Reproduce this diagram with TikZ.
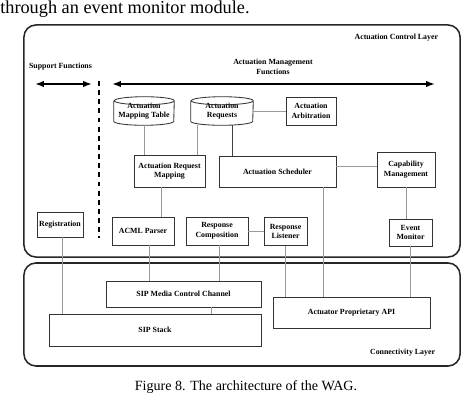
\documentclass[tikz,border=0pt]{standalone}
\usepackage{fontspec}
\setmainfont{Liberation Serif}
\usetikzlibrary{positioning,arrows.meta}

\begin{document}
\begin{tikzpicture}[x=0.025cm,y=-0.025cm,
	layerbox/.style={draw=black!85, line width=1.1pt, rounded corners=0.3cm, minimum width=10.9cm},
	squarednode/.style={rectangle, draw=black!80, line width=0.6pt, align=center, inner sep=0pt, font=\fontsize{5.6}{6.8}\selectfont\bfseries},
	dbnode/.style={rectangle, inner sep=0pt, align=center, font=\fontsize{5.6}{6.8}\selectfont\bfseries},
	dbline/.style={draw=black!80, line width=0.6pt},
	wire/.style={draw=black!40, line width=0.5pt},
	darkwire/.style={draw=black!75, line width=0.6pt},
	labeltext/.style={font=\fontsize{5.6}{6.8}\selectfont\bfseries, align=center},
	bigarrow/.style={{Latex[length=2.2mm,width=1.6mm]}-{Latex[length=2.2mm,width=1.6mm]}, line width=1.1pt},
]
\useasboundingbox (0,0) rectangle (474,417);

\node[anchor=base west, inner sep=0pt, font=\fontsize{13}{15}\selectfont] (prevline) at (0,13) {through an event monitor module.};

\node[layerbox, minimum height=5.8cm] (acl) at (242,141) {};
\node[layerbox, minimum height=2.575cm] (conl) at (242,314.5) {};
\node[labeltext, anchor=east] (acltitle) at (443,38) {Actuation Control Layer};
\node[labeltext, anchor=east] (conltitle) at (440,353) {Connectivity Layer};

\node[labeltext] (support) at (60.5,67) {Support Functions};
\node[labeltext] (mgmt) at (273,67) {Actuation Management\\Functions};
\coordinate (supl) at (35,84);
\coordinate (supr) at (92,84);
\coordinate (mgml) at (112,84);
\coordinate (mgmr) at (435,84);
\coordinate (sepa) at (99,81);
\coordinate (sepb) at (99,238);
\draw[bigarrow] (supl) -- (supr);
\draw[bigarrow] (mgml) -- (mgmr);
\draw[line width=1.1pt, dash pattern=on 3.5pt off 3pt] (sepa) -- (sepb);

\node[dbnode, minimum width=1.5cm, minimum height=0.7cm] (maptable) at (144,111) {Actuation\\Mapping Table};
\node[dbnode, minimum width=1.55cm, minimum height=0.7cm] (requests) at (222,111) {Actuation\\Requests};
\draw[dbline] ([yshift=-0.1cm]maptable.north west) -- ([yshift=0.1cm]maptable.south west) arc[start angle=180, end angle=360, x radius=0.75cm, y radius=0.1cm] -- ([yshift=-0.1cm]maptable.north east) arc[start angle=0, end angle=360, x radius=0.75cm, y radius=0.1cm];
\draw[dbline] ([yshift=-0.1cm]requests.north west) -- ([yshift=0.1cm]requests.south west) arc[start angle=180, end angle=360, x radius=0.775cm, y radius=0.1cm] -- ([yshift=-0.1cm]requests.north east) arc[start angle=0, end angle=360, x radius=0.775cm, y radius=0.1cm];
\node[squarednode, minimum width=1.25cm, minimum height=0.7cm] (arbitration) at (311,111) {Actuation\\Arbitration};

\node[squarednode, minimum width=1.775cm, minimum height=0.8cm] (reqmap) at (169.5,171) {Actuation Request\\Mapping};
\node[squarednode, minimum width=2.925cm, minimum height=0.775cm] (scheduler) at (277.5,171.5) {Actuation Scheduler};
\node[squarednode, minimum width=1.45cm, minimum height=0.875cm] (capability) at (406,169.5) {Capability\\Management};

\node[squarednode, minimum width=1.15cm, minimum height=0.625cm] (registration) at (60,224.5) {Registration};
\node[squarednode, minimum width=1.55cm, minimum height=0.7cm] (parser) at (143,231) {ACML Parser};
\node[squarednode, minimum width=1.55cm, minimum height=0.7cm] (composition) at (217,231) {Response\\Composition};
\node[squarednode, minimum width=1.075cm, minimum height=0.7cm] (listener) at (285.5,231.5) {Response\\Listener};
\node[squarednode, minimum width=1.075cm, minimum height=0.675cm] (monitor) at (410.5,232.5) {Event\\Monitor};

\node[squarednode, minimum width=3.875cm, minimum height=0.65cm] (mediachan) at (183.5,294) {SIP Media Control Channel};
\node[squarednode, minimum width=5.3cm, minimum height=0.8cm] (sipstack) at (155,330) {SIP Stack};
\node[squarednode, minimum width=3.925cm, minimum height=0.775cm] (propapi) at (351.5,312.5) {Actuator Proprietary API};

\draw[wire] (maptable.south) -- (maptable.south |- reqmap.north);
\draw[wire] ([xshift=0.175cm]requests.south west) -- ([xshift=0.175cm]requests.south west |- reqmap.north);
\draw[darkwire] ([xshift=1.05cm]requests.south west) -- ([xshift=1.05cm]requests.south west |- scheduler.north);
\draw[wire] (requests.east) -- (arbitration.west);
\draw[wire] ([yshift=0.09cm]capability.west) -- ([yshift=0.09cm]capability.west -| scheduler.east);
\draw[wire] ([xshift=-0.2cm]reqmap.south) -- ([xshift=-0.2cm]reqmap.south |- parser.north);
\draw[wire] (capability.south) -- (capability.south |- monitor.north);
\draw[wire] (composition.east) -- (composition.east -| listener.west);

\draw[wire] ([xshift=0.05cm]registration.south) -- ([xshift=0.05cm]registration.south |- sipstack.north);
\draw[wire] ([xshift=0.15cm]parser.south) -- ([xshift=0.15cm]parser.south |- mediachan.north);
\draw[wire] ([xshift=0.05cm]composition.south) -- ([xshift=0.05cm]composition.south |- mediachan.north);
\draw[wire] ([xshift=0.69cm]mediachan.south) -- ([xshift=0.69cm]mediachan.south |- sipstack.north);
\draw[wire] (listener.south) -- (listener.south |- propapi.north);
\draw[wire] ([xshift=1.14cm]scheduler.south) -- ([xshift=1.14cm]scheduler.south |- propapi.north);
\draw[wire] ([xshift=-0.0125cm]monitor.south) -- ([xshift=-0.0125cm]monitor.south |- propapi.north);

\node[font=\fontsize{10}{12}\selectfont] (caption) at (246,387.5) {Figure 8. The architecture of the WAG.};
\end{tikzpicture}
\end{document}
